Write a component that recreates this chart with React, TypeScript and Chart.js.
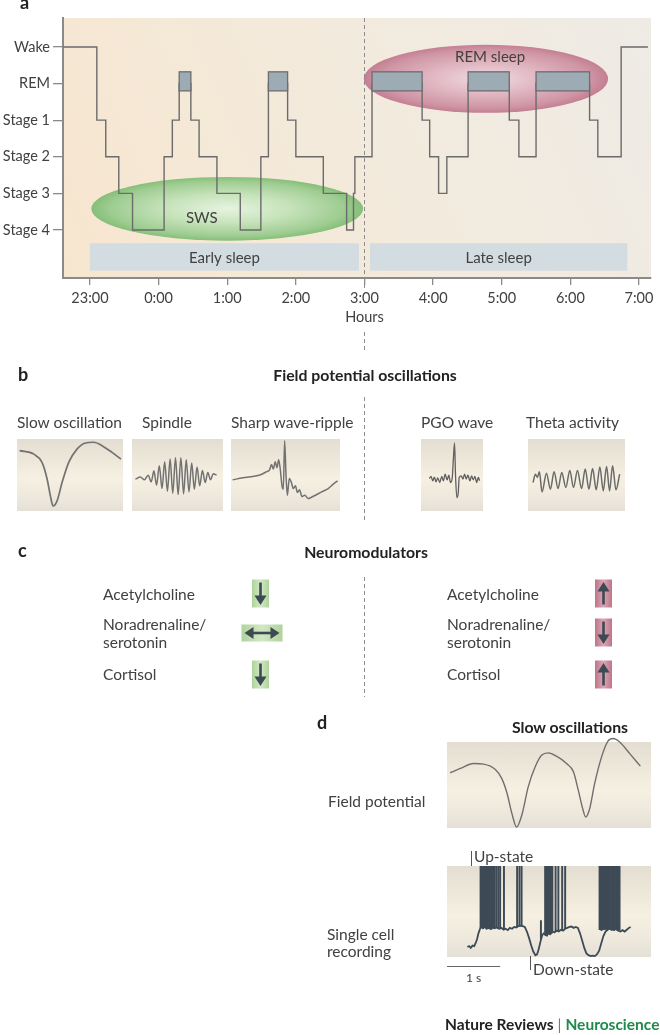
import React, { useEffect, useRef } from "react";
import { Chart, registerables } from "chart.js";

Chart.register(...registerables);

const FONT = "Lato, 'Open Sans', 'DejaVu Sans', sans-serif";
const TEXT = "#414141";
const DARK = "#222222";
const AXIS = "#8a8a8a";

// ---------------- Panel a: hypnogram ----------------
const stageLabels = ["Stage 4", "Stage 3", "Stage 2", "Stage 1", "REM", "Wake"];
const hourLabels = ["23:00", "0:00", "1:00", "2:00", "3:00", "4:00", "5:00", "6:00", "7:00"];
const xAxisTitle = "Hours";
const splitHour = "3:00";
// hours after 23:00 at which each stage begins
const hypnoTimes = [-0.39, 0.1, 0.23, 0.42, 0.62, 1.08, 1.2, 1.3, 1.47, 1.59, 1.85, 2.19, 2.49, 2.6, 2.88, 3.0, 3.4, 3.74, 3.84, 3.86, 4.11, 4.84, 4.95, 5.08, 5.2, 5.51, 6.11, 6.25, 6.5, 7.28, 7.4, 7.74, 8.13];
const hypnoStages = ["Wake", "Stage 1", "Stage 2", "Stage 3", "Stage 4", "Stage 2", "Stage 1", "REM", "Stage 1", "Stage 2", "Stage 3", "Stage 4", "Stage 2", "REM", "Stage 1", "Stage 2", "Stage 3", "Stage 4", "Stage 3", "Stage 2", "REM", "Stage 1", "Stage 2", "Stage 3", "Stage 2", "REM", "Stage 1", "Stage 2", "REM", "Stage 1", "Stage 2", "Wake", "Wake"];
const sleepPeriods = ["Early sleep", "Late sleep"];
const periodStart = [0.0, 4.08];
const periodEnd = [3.92, 7.83];
const stateNames = ["SWS", "REM sleep"];

// ---------------- Panel b: field potential oscillations ----------------
const waveLabels = ["Slow oscillation", "Spindle", "Sharp wave-ripple", "PGO wave", "Theta activity"];
const slowOscX = [2.5, 15.8, 23.6, 28.4, 31.5, 34, 37.8, 42.5, 48.8, 56.6, 64.5, 72.4, 80.2, 89.6, 98.1];
const slowOscY = [67.5, 58, 35, -11, -58, -86, -72, -21, 35, 72, 89, 91, 81.5, 63, 44];
const spindleX = [3.7, 9.3, 13.7, 17.8, 21.1, 24.1, 27, 30, 33, 35.9, 38.9, 41.9, 44.8, 47.8, 50.7, 53.7, 56.7, 59.6, 62.6, 65.6, 68.5, 71.5, 74.4, 77.4, 80.4, 83.3, 86.3, 89.3, 93];
const spindleY = [-11.5, -5.9, -13.3, -0.4, -19, 11.7, -28.3, 25.7, -37.6, 36.9, -45, 44.3, -50.6, 48, -54.3, 48, -52.5, 42.4, -46.9, 33.1, -39.4, 22, -30.1, 12.6, -20.9, 7, -13.3, 3.3, -0.4];
const swrX = [1.5, 10.8, 20, 27.7, 32.3, 35.4, 37.2, 38.8, 40.6, 42.2, 43.7, 45.2, 46.8, 48, 49.2, 50.5, 51.7, 53.5, 55.4, 57.2, 59.1, 60.9, 62.8, 65.2, 67.7, 70.8, 73.8, 77.5, 83.1, 89.2, 93.8, 97.8];
const swrY = [-13.4, -7.8, -4.1, 1.5, 8.9, 14.5, 29.4, 16.4, 36.8, 20.1, 42.4, 16.4, -30.1, -39.4, 95.4, -2.2, -56.2, -9.7, -20.8, -37.6, -30.1, -48.7, -41.3, -59.9, -56.2, -65.5, -61.7, -56.2, -46.9, -37.6, -25.5, -16.2];
const pgoX = [13.5, 16.2, 18.9, 21.6, 24.3, 27, 30.3, 33.5, 36.2, 38.9, 42.2, 44.9, 47.6, 50.3, 51.9, 54.1, 55.7, 57.8, 60, 61.6, 64.9, 67.6, 70.3, 73, 75.7, 78.9, 81.6, 84.3, 87, 89.7, 92.4, 94.6];
const pgoY = [-9.7, -4.1, -16.2, -6, -19, -7.8, -20.8, -4.1, -16.2, 2.4, -13.4, -0.4, -20.8, -9.7, 35, 88.9, -2.2, -62.7, -50.6, -6.9, -2.2, -11.5, 2.4, -11.5, -0.4, -16.2, -2.2, -13.4, -4.1, -20.8, -6.9, -16.2];
const thetaX = [5.2, 7.6, 9.7, 11.7, 14.5, 19, 23.1, 26.9, 31, 34.8, 39, 43.1, 46.9, 51, 55.2, 59, 62.8, 66.6, 70.3, 74.1, 77.6, 81, 84.1, 87.2, 90.7, 94.5];
const thetaY = [-20.8, 2.4, -6.9, 8.9, -46.9, 5.2, -39.4, 8.9, -37.6, 7.1, -34.8, 12.6, -34.8, 12.6, -37.6, 16.4, -39.4, 18.2, -41.3, 21.9, -44.1, 23.8, -44.1, 25.7, -41.3, 2.4];

// ---------------- Panel c: neuromodulators ----------------
const modulatorNames = [["Acetylcholine"], ["Noradrenaline/", "serotonin"], ["Cortisol"]];
const swsChange = ["down", "same", "down"];
const remChange = ["up", "down", "up"];

// ---------------- Panel d: slow oscillations ----------------
const fpTime = [0.06, 0.25, 0.5, 0.69, 0.91, 1.03, 1.13, 1.22, 1.31, 1.41, 1.53, 1.66, 1.78, 1.91, 2.06, 2.25, 2.38, 2.47, 2.56, 2.61, 2.68, 2.78, 2.91, 3.03, 3.13, 3.25, 3.44, 3.64];
const fpValue = [28.5, 38.5, 50, 48.5, 36.2, 15.4, -19.2, -65.4, -97.7, -69.2, -3.8, 42.3, 69.2, 74.6, 66.9, 50, 30.8, -11.5, -57.7, -74.6, -57.7, 3.8, 65.4, 102, 108, 100, 73, 43.8];
const cellTime = [0.0, 0.04, 0.08, 0.12, 0.16, 0.2, 0.23, 0.26, 0.29, 0.32, 0.36, 0.4, 0.45, 0.5, 0.55, 0.6, 0.65, 0.7, 0.75, 0.8, 0.85, 0.9, 0.95, 1.0, 1.05, 1.1, 1.15, 1.2, 1.25, 1.3, 1.35, 1.4, 1.45, 1.5, 1.55, 1.6, 1.64, 1.68, 1.72, 1.76, 1.8, 1.85, 1.9, 1.95, 2.0, 2.05, 2.1, 2.15, 2.2, 2.25, 2.3, 2.35, 2.4, 2.45, 2.5, 2.55, 2.6, 2.65, 2.7, 2.75, 2.8, 2.85, 2.9, 2.95, 3.0, 3.05, 3.1, 3.15, 3.2, 3.25, 3.3, 3.35, 3.4, 3.45, 3.5, 3.55, 3.6, 3.65, 3.7, 3.75, 3.8, 3.84];
const cellMv = [-69, -68, -70, -67.5, -68, -64, -60, -54, -50, -47, -48, -46, -49, -47, -48.5, -46, -48, -47.5, -49, -48, -50, -49, -50.5, -48, -49, -47, -47.5, -46, -45.5, -46, -47, -52, -59, -67, -74, -78, -77, -71, -63, -56, -54, -56, -53, -55, -52, -53, -51, -52, -50, -51, -49, -48, -47, -46.5, -48, -47, -48, -54, -62, -70, -76, -78, -79, -78.5, -79, -77, -73, -65, -57, -52, -50, -49, -48, -50, -49, -51, -52, -50.5, -52, -50, -48, -47];
const spikeTime = [0.31, 0.325, 0.34, 0.355, 0.37, 0.385, 0.4, 0.415, 0.43, 0.445, 0.46, 0.475, 0.49, 0.505, 0.52, 0.535, 0.55, 0.565, 0.58, 0.595, 0.61, 0.625, 0.64, 0.68, 0.725, 0.77, 0.86, 1.17, 1.225, 1.275, 1.73, 1.83, 1.845, 1.86, 1.875, 1.89, 1.905, 1.92, 1.935, 1.95, 1.965, 1.98, 2.0, 2.075, 2.14, 2.23, 2.3, 3.11, 3.125, 3.14, 3.155, 3.17, 3.185, 3.2, 3.215, 3.23, 3.26, 3.275, 3.29, 3.305, 3.32, 3.335, 3.35, 3.38, 3.395, 3.41, 3.425, 3.44, 3.455, 3.47, 3.49, 3.51, 3.53, 3.555, 3.58];
const spikeBaseMv = [-48, -47, -48, -47, -49, -47, -46, -48, -48, -47, -49, -48, -47, -49, -48, -47, -50, -48, -47, -49, -48, -47, -49, -48, -49, -49, -50, -47, -46, -46, -60, -56, -55, -56, -57, -55, -54, -55, -55, -53, -54, -54, -52, -52, -51, -50, -49, -50, -49, -50, -51, -50, -49, -48, -50, -50, -49, -51, -50, -49, -48, -49, -50, -49, -51, -50, -49, -50, -51, -49, -50, -50, -51, -50, -50];
const spikePeakMv = [20, 20, 20, 20, 20, 20, 20, 20, 20, 20, 20, 20, 20, 20, 20, 20, 20, 20, 20, 20, 20, 20, 20, 20, 20, 20, 20, 20, 20, 20, -40, 20, 20, 20, 20, 20, 20, 20, 20, 20, 20, 20, 20, 20, 20, 20, 20, 20, 20, 20, 20, 20, 20, 20, 20, 20, 20, 20, 20, 20, 20, 20, 20, 20, 20, 20, 20, 20, 20, 20, 20, 20, 20, 20, 20];
const recordingLabels = ["Field potential", "Single cell", "recording"];
const stateMarks = ["Up-state", "Down-state"];
const scaleBarSeconds = 1;
const CELL_T_MAX = 3.84;

const BOX_BG =
  "linear-gradient(180deg, #e4ded2 0%, #ede7da 28%, #f6f0e2 55%, #efe9dd 80%, #e5e0d6 100%)";

function Hypnogram() {
  const ref = useRef<HTMLCanvasElement>(null);
  useEffect(() => {
    const points = hypnoTimes.map((t, i) => ({ x: t, y: stageLabels.indexOf(hypnoStages[i]) }));
    const remLevel = stageLabels.indexOf("REM");
    const splitValue = hourLabels.indexOf(splitHour);
    const ellipses = [
      { label: stateNames[0], cx: 2.0, cy: 0.58, rx: 1.98, ry: 0.87, lx: 1.63, ly: 0.32,
        stops: [[0, "#e6f3df"], [0.45, "#c7e3bb"], [0.85, "#9fcd92"], [1, "#86bf79"]] },
      { label: stateNames[1], cx: 5.77, cy: 4.13, rx: 1.78, ry: 0.93, lx: 5.83, ly: 4.72,
        stops: [[0, "#f0dbe1"], [0.45, "#e0b7c2"], [0.85, "#cf95a5"], [1, "#c47f92"]] },
    ];
    const deco = {
      id: "hypnoDeco",
      beforeDraw(chart: any) {
        const { ctx, chartArea: a } = chart;
        ctx.save();
        const g = ctx.createLinearGradient(a.left, a.bottom, a.right, a.top);
        g.addColorStop(0, "#f7e6cf");
        g.addColorStop(0.5, "#f3eadc");
        g.addColorStop(1, "#eeebe5");
        ctx.fillStyle = g;
        ctx.fillRect(a.left, a.top, a.right - a.left, a.bottom - a.top);
        ctx.restore();
      },
      beforeDatasetsDraw(chart: any) {
        const { ctx } = chart;
        const xs = chart.scales.x, ys = chart.scales.y;
        ctx.save();
        ctx.font = `15px ${FONT}`;
        ctx.textAlign = "center";
        ctx.textBaseline = "middle";
        sleepPeriods.forEach((label, i) => {
          const x0 = xs.getPixelForValue(periodStart[i]);
          const x1 = xs.getPixelForValue(periodEnd[i]);
          const y0 = ys.getPixelForValue(-0.36);
          const y1 = ys.getPixelForValue(-1.11);
          ctx.fillStyle = "#d3dce1";
          ctx.fillRect(x0, y0, x1 - x0, y1 - y0);
          ctx.fillStyle = TEXT;
          ctx.fillText(label, (x0 + x1) / 2, (y0 + y1) / 2 + 1);
        });
        ellipses.forEach((e) => {
          const cx = xs.getPixelForValue(e.cx);
          const cy = ys.getPixelForValue(e.cy);
          const rx = xs.getPixelForValue(e.cx + e.rx) - cx;
          const ry = cy - ys.getPixelForValue(e.cy + e.ry);
          ctx.save();
          ctx.translate(cx, cy);
          ctx.scale(1, ry / rx);
          const g = ctx.createRadialGradient(0, 0, 0, 0, 0, rx);
          e.stops.forEach(([o, c]: any) => g.addColorStop(o, c));
          ctx.fillStyle = g;
          ctx.beginPath();
          ctx.arc(0, 0, rx, 0, Math.PI * 2);
          ctx.fill();
          ctx.restore();
          ctx.fillStyle = TEXT;
          ctx.fillText(e.label, xs.getPixelForValue(e.lx), ys.getPixelForValue(e.ly));
        });
        ctx.restore();
      },
      afterDatasetsDraw(chart: any) {
        const { ctx, chartArea: a } = chart;
        const xs = chart.scales.x, ys = chart.scales.y;
        ctx.save();
        hypnoStages.forEach((s, i) => {
          if (s !== "REM" || i + 1 >= hypnoTimes.length) return;
          const x0 = xs.getPixelForValue(hypnoTimes[i]);
          const x1 = xs.getPixelForValue(hypnoTimes[i + 1]);
          const y0 = ys.getPixelForValue(remLevel + 0.32);
          const y1 = ys.getPixelForValue(remLevel - 0.2);
          ctx.fillStyle = "#9dabb5";
          ctx.fillRect(x0, y0, x1 - x0, y1 - y0);
          ctx.strokeStyle = "#6d6d6d";
          ctx.lineWidth = 1.3;
          ctx.strokeRect(x0, y0, x1 - x0, y1 - y0);
        });
        const sx = Math.round(xs.getPixelForValue(splitValue)) + 0.5;
        ctx.strokeStyle = "#8c8c8c";
        ctx.lineWidth = 1;
        ctx.setLineDash([4, 3]);
        ctx.beginPath();
        ctx.moveTo(sx, a.top);
        ctx.lineTo(sx, a.bottom + 12);
        ctx.stroke();
        ctx.restore();
      },
    };
    const chart = new Chart(ref.current!, {
      type: "line",
      data: {
        datasets: [
          {
            data: points,
            stepped: true,
            borderColor: "#6b6b6b",
            borderWidth: 1.4,
            pointRadius: 0,
            fill: false,
          } as any,
        ],
      },
      options: {
        animation: false,
        responsive: false,
        devicePixelRatio: 1,
        events: [],
        layout: { padding: { top: 18, right: 9, left: 0, bottom: 0 } },
        plugins: { legend: { display: false }, tooltip: { enabled: false } },
        scales: {
          x: {
            type: "linear",
            min: -0.393,
            max: 8.175,
            afterBuildTicks: (s: any) => {
              s.ticks = hourLabels.map((_, i) => ({ value: i }));
            },
            afterFit: (s: any) => {
              s.height = 62;
            },
            ticks: {
              autoSkip: false,
              maxRotation: 0,
              padding: 4,
              color: TEXT,
              font: { family: FONT, size: 14.5, lineHeight: 1.31 },
              callback: (v: any) => (hourLabels[v] === splitHour ? [hourLabels[v], xAxisTitle] : hourLabels[v]),
            },
            grid: { drawOnChartArea: false, drawTicks: true, tickLength: 7, color: AXIS, lineWidth: 1.3 },
            border: { display: true, color: AXIS, width: 2 },
          },
          y: {
            type: "linear",
            min: -1.31,
            max: 5.79,
            afterBuildTicks: (s: any) => {
              s.ticks = stageLabels.map((_, i) => ({ value: i }));
            },
            afterFit: (s: any) => {
              s.width = 63;
            },
            ticks: {
              padding: 3,
              color: TEXT,
              font: { family: FONT, size: 14.5 },
              callback: (v: any) => stageLabels[v],
            },
            grid: { drawOnChartArea: false, drawTicks: true, tickLength: 10, color: AXIS, lineWidth: 1.3 },
            border: { display: true, color: AXIS, width: 2 },
          },
        },
      } as any,
      plugins: [deco],
    });
    return () => chart.destroy();
  }, []);
  return <canvas ref={ref} width={660} height={340} style={{ position: "absolute", left: 0, top: 0, display: "block" }} />;
}

type WaveProps = {
  box: [number, number, number, number];
  xs: number[];
  ys: number[];
  xRange: [number, number];
  yRange: [number, number];
  color: string;
  width: number;
  smooth?: boolean;
  spikes?: { t: number[]; base: number[]; peak: number[] };
};

function Wave({ box, xs, ys, xRange, yRange, color, width, smooth = true, spikes }: WaveProps) {
  const ref = useRef<HTMLCanvasElement>(null);
  const pad = 8;
  const [l, t, w, h] = box;
  useEffect(() => {
    const datasets: any[] = [
      {
        type: "line",
        data: xs.map((x, i) => ({ x, y: ys[i] })),
        borderColor: color,
        borderWidth: width,
        pointRadius: 0,
        fill: false,
        cubicInterpolationMode: smooth ? "monotone" : "default",
        tension: 0,
        clip: pad,
      },
    ];
    if (spikes) {
      datasets.push({
        type: "bar",
        data: spikes.t.map((s, i) => ({ x: s, y: [spikes.base[i], spikes.peak[i]] })),
        backgroundColor: color,
        borderWidth: 0,
        barThickness: 1.3,
        grouped: false,
      });
    }
    const chart = new Chart(ref.current!, {
      type: "line",
      data: { datasets },
      options: {
        animation: false,
        responsive: false,
        devicePixelRatio: 1,
        events: [],
        layout: { padding: pad },
        plugins: { legend: { display: false }, tooltip: { enabled: false } },
        scales: {
          x: { type: "linear", min: xRange[0], max: xRange[1], display: false },
          y: { type: "linear", min: yRange[0], max: yRange[1], display: false },
        },
      } as any,
    });
    return () => chart.destroy();
  }, []);
  return (
    <>
      <div style={{ position: "absolute", left: l, top: t, width: w, height: h, background: BOX_BG }} />
      <canvas
        ref={ref}
        width={w + 2 * pad}
        height={h + 2 * pad}
        style={{ position: "absolute", left: l - pad, top: t - pad, display: "block" }}
      />
    </>
  );
}

function ArrowBox({ x, y, dir, tone }: { x: number; y: number; dir: string; tone: string }) {
  const horiz = dir === "same";
  const w = horiz ? 41 : 17;
  const h = horiz ? 17 : 28;
  const left = x - w / 2;
  const top = y - h / 2;
  const fill = tone === "green" ? "url(#gGreen)" : "url(#gPink)";
  const c = "#3d4a54";
  let shape: React.ReactNode = null;
  if (dir === "down") {
    shape = (
      <>
        <rect x={x - 1.3} y={top + 3} width={2.6} height={h - 12} fill={c} />
        <polygon points={`${x - 6},${top + h - 12} ${x + 6},${top + h - 12} ${x},${top + h - 2.5}`} fill={c} />
      </>
    );
  } else if (dir === "up") {
    shape = (
      <>
        <rect x={x - 1.3} y={top + 9} width={2.6} height={h - 12} fill={c} />
        <polygon points={`${x - 6},${top + 12} ${x + 6},${top + 12} ${x},${top + 2.5}`} fill={c} />
      </>
    );
  } else {
    shape = (
      <>
        <rect x={left + 10} y={y - 1.3} width={w - 20} height={2.6} fill={c} />
        <polygon points={`${left + 3},${y} ${left + 12},${y - 6} ${left + 12},${y + 6}`} fill={c} />
        <polygon points={`${left + w - 3},${y} ${left + w - 12},${y - 6} ${left + w - 12},${y + 6}`} fill={c} />
      </>
    );
  }
  return (
    <g>
      <rect x={left} y={top} width={w} height={h} fill={fill} />
      {shape}
    </g>
  );
}

export default function App() {
  const splitX = 364.5;
  const cellBox: [number, number, number, number] = [447, 866, 204, 91];
  const barLen = (cellBox[2] / CELL_T_MAX) * scaleBarSeconds;
  const rowY = [593.5, 633, 674.5];
  const rowBase = [[600], [630, 647.5], [680]];
  const LBL = 15.5;
  return (
    <div
      style={{
        position: "absolute",
        left: 0,
        top: 0,
        width: 660,
        height: 1035,
        background: "#ffffff",
        overflow: "hidden",
        fontFamily: FONT,
      }}
    >
      <Hypnogram />
      <Wave box={[17, 439, 106, 72]} xs={slowOscX} ys={slowOscY} xRange={[0, 100]} yRange={[-100, 100]} color="#727272" width={1.7} />
      <Wave box={[132, 439, 91, 72]} xs={spindleX} ys={spindleY} xRange={[0, 100]} yRange={[-100, 100]} color="#727272" width={1.5} />
      <Wave box={[231, 439, 109, 72]} xs={swrX} ys={swrY} xRange={[0, 100]} yRange={[-100, 100]} color="#727272" width={1.5} />
      <Wave box={[421, 439, 62, 72]} xs={pgoX} ys={pgoY} xRange={[0, 100]} yRange={[-100, 100]} color="#5f5f5f" width={1.3} />
      <Wave box={[528, 439, 97, 72]} xs={thetaX} ys={thetaY} xRange={[0, 100]} yRange={[-100, 100]} color="#6a6a6a" width={1.5} />
      <Wave box={[447, 742, 204, 86]} xs={fpTime} ys={fpValue} xRange={[0, CELL_T_MAX]} yRange={[-100, 100]} color="#6f6f6f" width={1.4} />
      <Wave
        box={cellBox}
        xs={cellTime}
        ys={cellMv}
        xRange={[0, CELL_T_MAX]}
        yRange={[-80, 20]}
        color="#3e4b56"
        width={1.8}
        smooth={false}
        spikes={{ t: spikeTime, base: spikeBaseMv, peak: spikePeakMv }}
      />
      <svg width={660} height={1035} style={{ position: "absolute", left: 0, top: 0, pointerEvents: "none" }} fontFamily={FONT}>
        <defs>
          <linearGradient id="gGreen" x1="0" y1="0" x2="1" y2="0">
            <stop offset="0" stopColor="#afd39c" />
            <stop offset="0.5" stopColor="#d2e8c4" />
            <stop offset="1" stopColor="#afd39c" />
          </linearGradient>
          <linearGradient id="gPink" x1="0" y1="0" x2="1" y2="0">
            <stop offset="0" stopColor="#bd7589" />
            <stop offset="0.5" stopColor="#dba7b4" />
            <stop offset="1" stopColor="#bd7589" />
          </linearGradient>
        </defs>
        {/* dashed divider below panel a */}
        <g stroke="#8c8c8c" strokeWidth={1} strokeDasharray="4 3">
          <line x1={splitX} y1={332} x2={splitX} y2={353} />
          <line x1={splitX} y1={397} x2={splitX} y2={523} />
          <line x1={splitX} y1={577} x2={splitX} y2={697} />
        </g>
        {/* panel letters */}
        <g fontWeight="bold" fill={DARK} fontSize={18}>
          <text x={20} y={9}>a</text>
          <text x={18} y={381}>b</text>
          <text x={18} y={557}>c</text>
          <text x={317} y={729}>d</text>
        </g>
        {/* panel b */}
        <text x={365} y={380.5} textAnchor="middle" fontWeight="bold" fontSize={15.8} fill={DARK}>
          Field potential oscillations
        </text>
        <g fontSize={LBL} fill={TEXT}>
          <text x={17} y={427.5}>{waveLabels[0]}</text>
          <text x={142} y={427.5}>{waveLabels[1]}</text>
          <text x={231} y={427.5}>{waveLabels[2]}</text>
          <text x={421} y={427.5}>{waveLabels[3]}</text>
          <text x={526} y={427.5}>{waveLabels[4]}</text>
        </g>
        {/* panel c */}
        <text x={366} y={557.5} textAnchor="middle" fontWeight="bold" fontSize={15.8} fill={DARK}>
          Neuromodulators
        </text>
        <g fontSize={LBL} fill={TEXT}>
          {modulatorNames.map((lines, i) =>
            lines.map((ln, j) => (
              <React.Fragment key={`${i}-${j}`}>
                <text x={103} y={rowBase[i][j]}>{ln}</text>
                <text x={447} y={rowBase[i][j]}>{ln}</text>
              </React.Fragment>
            ))
          )}
        </g>
        {swsChange.map((d, i) => (
          <ArrowBox key={`s${i}`} x={d === "same" ? 262 : 260.5} y={rowY[i]} dir={d} tone="green" />
        ))}
        {remChange.map((d, i) => (
          <ArrowBox key={`r${i}`} x={603.5} y={rowY[i] + (i === 1 ? -0.5 : 0)} dir={d} tone="pink" />
        ))}
        {/* panel d */}
        <text x={570} y={732.5} textAnchor="middle" fontWeight="bold" fontSize={15.8} fill={DARK}>
          Slow oscillations
        </text>
        <g fontSize={LBL} fill={TEXT}>
          <text x={328} y={807}>{recordingLabels[0]}</text>
          <text x={327} y={940}>{recordingLabels[1]}</text>
          <text x={327} y={957}>{recordingLabels[2]}</text>
          <text x={474} y={862}>{stateMarks[0]}</text>
          <text x={533} y={975}>{stateMarks[1]}</text>
        </g>
        <g stroke="#555" strokeWidth={1}>
          <line x1={471.5} y1={851} x2={471.5} y2={866} />
          <line x1={530.5} y1={956} x2={530.5} y2={970} />
        </g>
        <line x1={cellBox[0]} y1={966.5} x2={cellBox[0] + barLen} y2={966.5} stroke="#666" strokeWidth={1} />
        <text x={cellBox[0] + barLen / 2} y={982} textAnchor="middle" fontSize={12} fill={TEXT}>
          {`${scaleBarSeconds} s`}
        </text>
        {/* footer */}
        <text x={445} y={1030} fontSize={15.5} fontWeight="bold">
          <tspan fill={DARK}>Nature Reviews</tspan>
          <tspan fill="#777" fontWeight="normal"> | </tspan>
          <tspan fill="#1f8a4c">Neuroscience</tspan>
        </text>
      </svg>
    </div>
  );
}
